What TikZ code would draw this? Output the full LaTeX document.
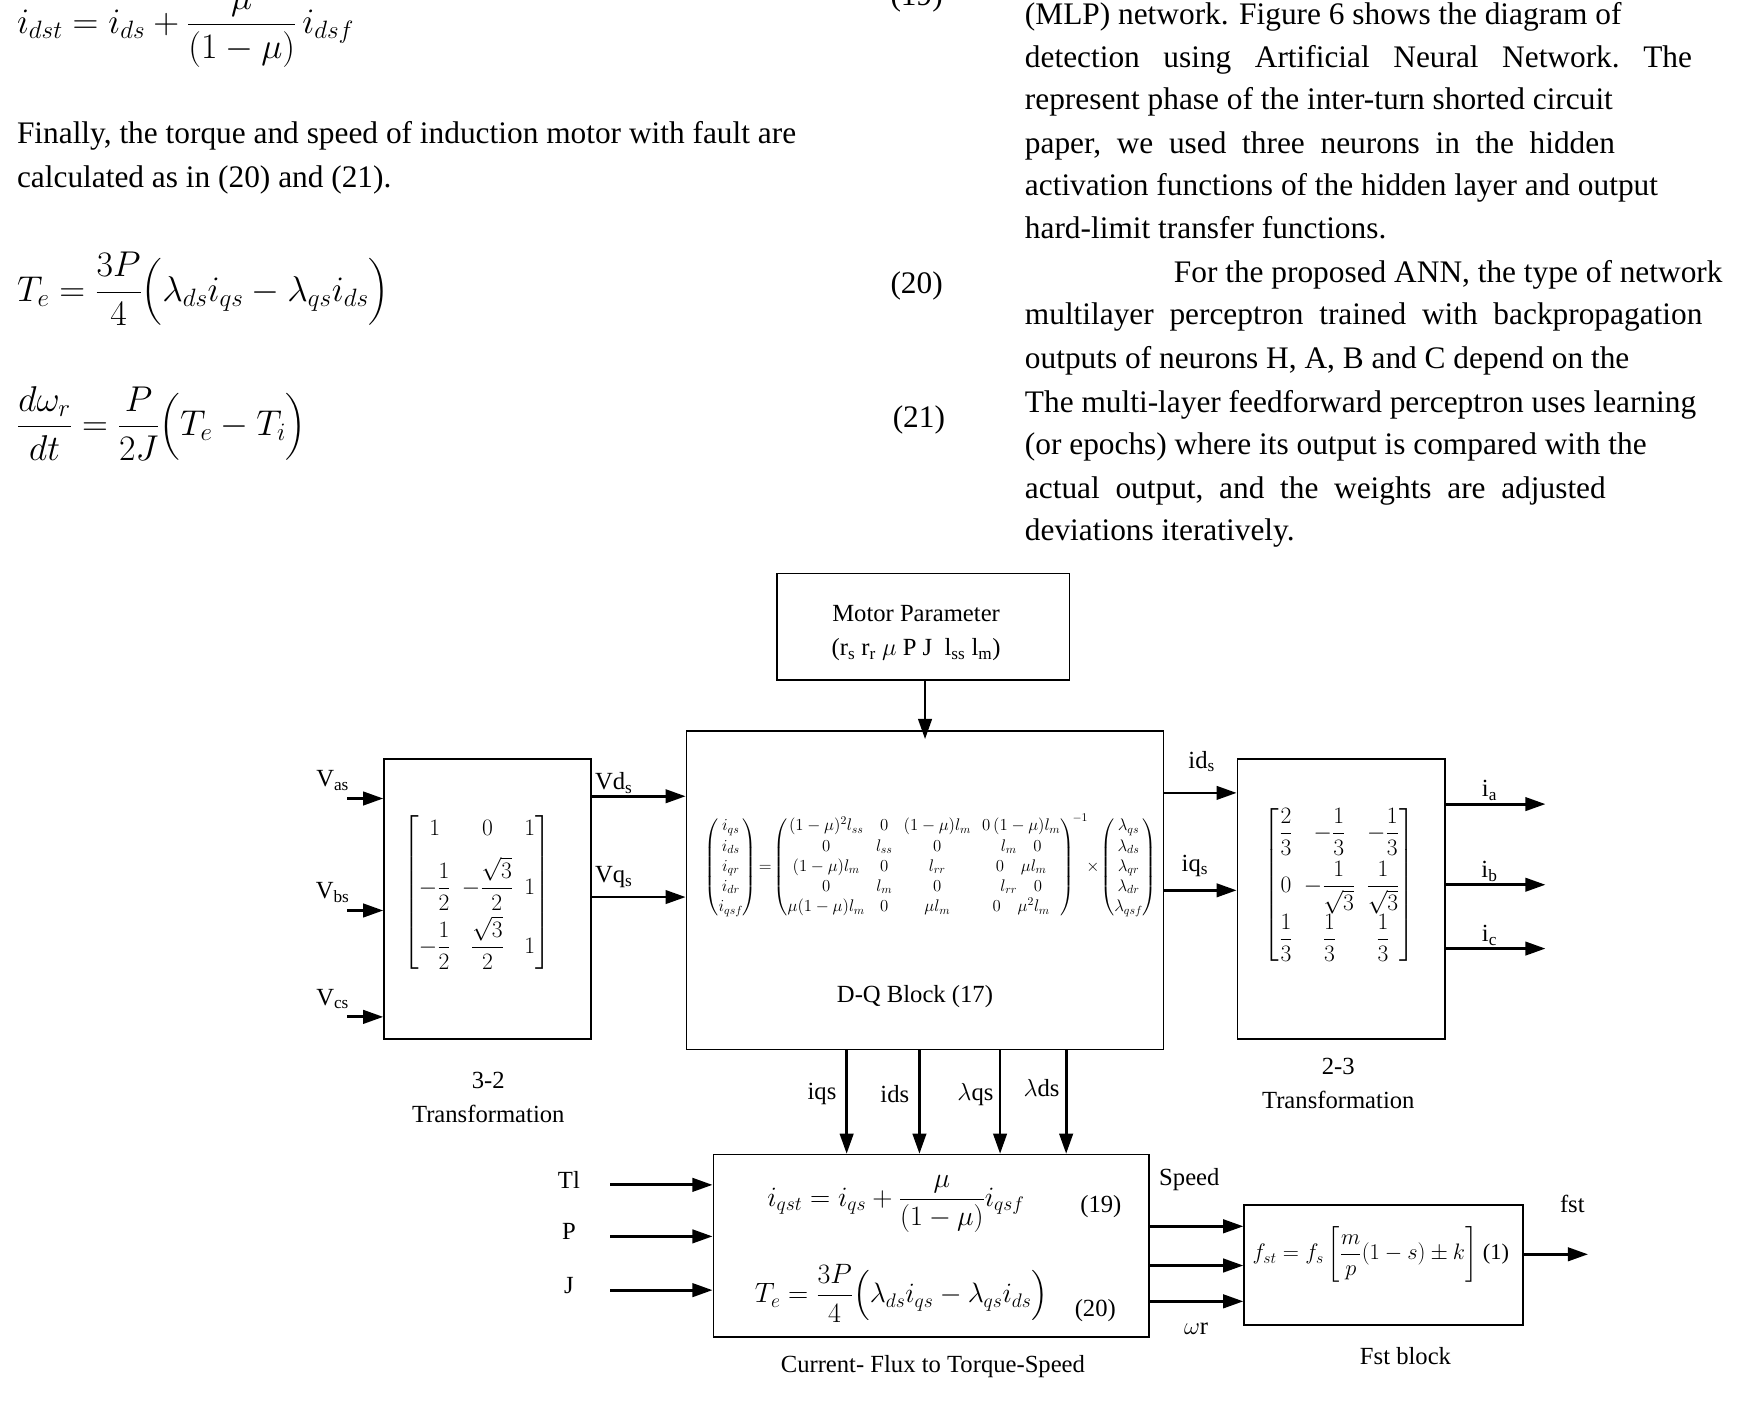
\RequirePackage{fix-cm}
\documentclass[tikz,border=0pt]{standalone}
\usepackage{amsmath}
\usepackage{fontspec}
\setmainfont{Liberation Serif}
\usetikzlibrary{arrows.meta}
\begin{document}
\begin{tikzpicture}[x=1pt,y=-1pt,
  box/.style={draw,line width=1.5pt,inner sep=0pt},
  arr/.style={line width=2.5pt,-{Triangle[length=18pt,width=12pt]}},
  lab/.style={font=\fontsize{22}{26}\selectfont,inner sep=0pt},
  body/.style={font=\fontsize{28}{34}\selectfont,inner sep=0pt,anchor=base west},
  beq/.style={font=\fontsize{32}{38}\selectfont,inner sep=0pt,anchor=west}]
\useasboundingbox (0,0) rectangle (1568,1251);
\clip (0,0) rectangle (1568,1251);
% ---- text
\node[beq,anchor=base west] (t0) at (15,30) {$i_{dst}=i_{ds}+\dfrac{\mu}{(1-\mu)}\,i_{dsf}$};
\node[body] (t1) at (15,128) {Finally, the torque and speed of induction motor with fault are};
\node[body] (t2) at (15,167) {calculated as in (20) and (21).};
\node[beq] (e20) at (15,258) {$T_e=\dfrac{3P}{4}\Big(\lambda_{ds}i_{qs}-\lambda_{qs}i_{ds}\Big)$};
\node[body,anchor=west] (n20) at (795,255) {(20)};
\node[beq] (e21) at (15,378) {$\dfrac{d\omega_r}{dt}=\dfrac{P}{2J}\Big(T_e-T_i\Big)$};
\node[body,anchor=west] (n21) at (797,375) {(21)};
\node[body] (n19) at (795,5) {(19)};
\foreach \y/\t [count=\i] in {22/{(MLP) network. Figure 6 shows the diagram of},
 60/{detection\ \ \ using\ \ \ Artificial\ \ \ Neural\ \ \ Network.\ \ \ The},
 98/{represent phase of the inter-turn shorted circuit},
 137/{paper,\ \ we\ \ used\ \ three\ \ neurons\ \ in\ \ the\ \ hidden},
 175/{activation functions of the hidden layer and output},
 213/{hard-limit transfer functions.},
 290/{multilayer\ \ perceptron\ \ trained\ \ with\ \ backpropagation},
 329/{outputs of neurons H, A, B and C depend on the},
 368/{The multi-layer feedforward perceptron uses learning},
 406/{(or epochs) where its output is compared with the},
 445/{actual\ \ output,\ \ and\ \ the\ \ weights\ \ are\ \ adjusted},
 483/{deviations iteratively.}}
 {\node[body] (r\i) at (915,\y) {\t};}
\node[body] (r13) at (1048,252) {For the proposed ANN, the type of network};
% ---- boxes
\node[box,minimum width=261pt,minimum height=95pt] (mp) at (824.5,559.5) {};
\node[lab] (mpt1) at (818,548) {Motor Parameter};
\node[lab] (mpt2) at (818,580) {(r$_\mathrm{s}$ r$_\mathrm{r}$ $\mu$ P J\ \ l$_\mathrm{ss}$ l$_\mathrm{m}$)};
\node[box,minimum width=426pt,minimum height=284pt] (dq) at (826,795) {};
\node[inner sep=0pt,font=\fontsize{15}{18}\selectfont] (mat) at (831,773) {$\left(\begin{matrix}i_{qs}\\ i_{ds}\\ i_{qr}\\ i_{dr}\\ i_{qsf}\end{matrix}\right)
\!=\!\left(\begin{matrix}(1-\mu)^2l_{ss}&0&(1-\mu)l_m&0\,(1-\mu)l_m\\ 0&l_{ss}&0&l_m\quad 0\\ (1-\mu)l_m&0&l_{rr}&0\quad \mu l_m\\ 0&l_m&0&l_{rr}\quad 0\\ \mu(1-\mu)l_m&0&\mu l_m&0\quad \mu^2l_m\end{matrix}\right)^{\!-1}
\!\!\times\!\left(\begin{matrix}\lambda_{qs}\\ \lambda_{ds}\\ \lambda_{qr}\\ \lambda_{dr}\\ \lambda_{qsf}\end{matrix}\right)$};
\node[lab] (dql) at (817,890) {D-Q Block (17)};
\node[box,minimum width=185pt,minimum height=250pt] (t32) at (435.5,803) {};
\node[inner sep=0pt,font=\fontsize{21}{25}\selectfont] (m32) at (426,797) {$\begin{bmatrix}1&0&1\\[12pt] -\dfrac12&-\dfrac{\sqrt3}{2}&1\\[12pt] -\dfrac12&\dfrac{\sqrt3}{2}&1\end{bmatrix}$};
\node[lab] (l32a) at (436,965) {3-2};
\node[lab] (l32b) at (436,995) {Transformation};
\node[box,minimum width=185pt,minimum height=250pt] (t23) at (1197.5,803) {};
\node[inner sep=0pt,font=\fontsize{21}{25}\selectfont] (m23) at (1196,790) {$\begin{bmatrix}\dfrac23&-\dfrac13&-\dfrac13\\[12pt] 0&-\dfrac1{\sqrt3}&\dfrac1{\sqrt3}\\[12pt] \dfrac13&\dfrac13&\dfrac13\end{bmatrix}$};
\node[lab] (l23a) at (1195,952) {2-3};
\node[lab] (l23b) at (1195,982) {Transformation};
\node[box,minimum width=389pt,minimum height=163pt] (cf) at (831.5,1112.5) {};
\node[inner sep=0pt,font=\fontsize{25}{30}\selectfont] (cf1) at (800,1075) {$i_{qst}=i_{qs}+\dfrac{\mu}{(1-\mu)}i_{qsf}$};
\node[lab] (cf1n) at (983,1077) {(19)};
\node[inner sep=0pt,font=\fontsize{25}{30}\selectfont] (cf2) at (805,1155) {$T_e=\dfrac{3P}{4}\Big(\lambda_{ds}i_{qs}-\lambda_{qs}i_{ds}\Big)$};
\node[lab] (cf2n) at (978,1170) {(20)};
\node[lab] (cfl) at (833,1220) {Current- Flux to Torque-Speed};
\node[box,minimum width=249pt,minimum height=107pt] (fs) at (1235.5,1129.5) {};
\node[inner sep=0pt,font=\fontsize{20}{24}\selectfont] (fse) at (1233,1120) {$f_{st}=f_s\left[\dfrac{m}{p}(1-s)\pm k\right]$ (1)};
\node[lab] (fsl) at (1255,1211) {Fst block};
% ---- coordinates and connectors
\draw[arr] (826,607) -- (826,660);
\foreach \y/\n/\l in {713/as/{V$_\mathrm{as}$},813/bs/{V$_\mathrm{bs}$},908/cs/{V$_\mathrm{cs}$}}{
  \coordinate (i\n) at (310,\y);
  \node[lab] (L\n) at (297,\y-16) {\l};
  \draw[arr] (i\n) -- (t32.west|-i\n);}
\coordinate (vd) at (528,711); \coordinate (vq) at (528,801);
\draw[arr] (vd) -- (dq.west|-vd); \draw[arr] (vq) -- (dq.west|-vq);
\node[lab] (Lvd) at (548,699) {Vd$_\mathrm{s}$};
\node[lab] (Lvq) at (548,783) {Vq$_\mathrm{s}$};
\coordinate (ids) at (1039,708); \coordinate (iqs) at (1039,795);
\draw[arr] (ids) -- (t23.west|-ids); \draw[arr] (iqs) -- (t23.west|-iqs);
\node[lab] (Lids) at (1073,680) {id$_\mathrm{s}$};
\node[lab] (Liqs) at (1067,773) {iq$_\mathrm{s}$};
\foreach \y/\n/\l in {718/a/{i$_\mathrm{a}$},790/b/{i$_\mathrm{b}$},847/c/{i$_\mathrm{c}$}}{
  \coordinate (o\n) at (1380,\y);
  \node[lab] (Lo\n) at (1330,\y-12) {\l};
  \draw[arr] (t23.east|-o\n) -- (o\n);}
\foreach \x/\n/\l/\ly in {756/a/iqs/977,821/b/ids/977,893/c/{$\lambda$qs}/977,952/d/{$\lambda$ds}/972}{
  \coordinate (v\n) at (\x,937);
  \draw[arr] (v\n) -- (cf.north-|v\n);
  \node[lab] (Lv\n) at (\x-22,\ly) {\l};}
\foreach \y/\n/\l in {1058/t/Tl,1104/p/P,1152/j/J}{
  \coordinate (c\n) at (545,\y);
  \node[lab] (Lc\n) at (508,\y-4) {\l};
  \draw[arr] (c\n) -- (cf.west|-c\n);}
\foreach \y/\n in {1095/a,1130/b,1162/c}{
  \coordinate (s\n) at (1026,\y);
  \draw[arr] (s\n) -- (fs.west|-s\n);}
\node[lab] (Lsp) at (1062,1053) {Speed};
\node[lab] (Lwr) at (1068,1186) {$\omega$r};
\coordinate (fo) at (1418,1120);
\draw[arr] (fs.east|-fo) -- (fo);
\node[lab] (Lfo) at (1404,1075) {fst};
\end{tikzpicture}
\end{document}
